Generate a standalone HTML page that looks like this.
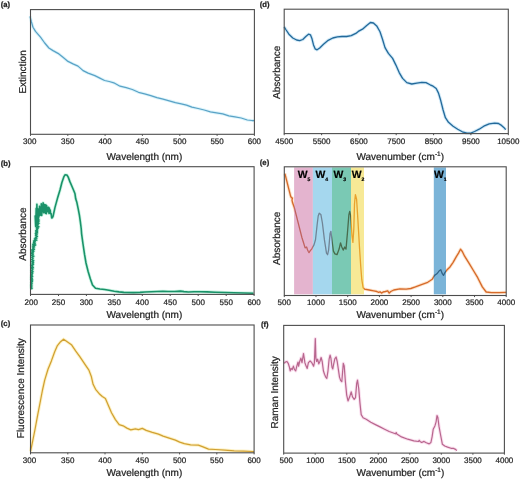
<!DOCTYPE html>
<html><head><meta charset="utf-8"><style>html,body{margin:0;padding:0;background:#fff;width:520px;height:479px;overflow:hidden}svg{display:block}</style></head>
<body>
<svg width="520" height="479" viewBox="0 0 520 479" text-rendering="geometricPrecision" font-family='"Liberation Sans", Arial, sans-serif' fill="#1e1e1e">
<style>text{stroke:#1e1e1e;stroke-width:0.22px} g.w text{stroke:#000;stroke-width:0.2px}</style>
<rect width="520" height="479" fill="#fff"/>
<polyline points="30.0,16.3 31.3,21.4 33.0,27.2 35.5,31.4 40.5,37.2 44.7,43.0 48.9,48.0 53.0,50.6 58.9,53.9 63.0,57.2 68.0,61.4 73.0,63.9 78.0,66.1 83.1,70.6 88.1,73.1 94.8,75.6 99.8,78.1 104.6,80.5 109.2,81.5 113.8,82.8 120.0,86.2 126.2,87.7 132.3,89.5 138.5,92.3 144.6,93.8 150.8,95.7 156.9,97.7 163.1,99.2 169.2,100.8 175.4,102.6 181.2,103.8 186.5,105.1 191.9,107.2 198.1,108.5 204.2,110.0 210.4,111.8 216.5,112.8 222.7,113.8 228.8,115.8 235.0,116.8 241.2,118.0 247.3,120.0 251.9,120.5 254.2,120.5" fill="none" stroke="#c4ecf8" stroke-width="3.2" stroke-opacity="0.6" stroke-linejoin="round"/>
<polyline points="30.0,16.3 31.3,21.4 33.0,27.2 35.5,31.4 40.5,37.2 44.7,43.0 48.9,48.0 53.0,50.6 58.9,53.9 63.0,57.2 68.0,61.4 73.0,63.9 78.0,66.1 83.1,70.6 88.1,73.1 94.8,75.6 99.8,78.1 104.6,80.5 109.2,81.5 113.8,82.8 120.0,86.2 126.2,87.7 132.3,89.5 138.5,92.3 144.6,93.8 150.8,95.7 156.9,97.7 163.1,99.2 169.2,100.8 175.4,102.6 181.2,103.8 186.5,105.1 191.9,107.2 198.1,108.5 204.2,110.0 210.4,111.8 216.5,112.8 222.7,113.8 228.8,115.8 235.0,116.8 241.2,118.0 247.3,120.0 251.9,120.5 254.2,120.5" fill="none" stroke="#5aa2c6" stroke-width="1.25" stroke-linejoin="round"/>
<polyline points="31.1,289.0 32.0,288.3 31.2,287.7 31.8,286.8 31.0,285.9 31.9,285.1 31.2,284.4 32.0,283.3 31.3,282.6 32.3,281.4 31.6,280.6 32.5,280.0 31.1,279.2 32.2,278.5 31.2,277.4 32.5,276.5 31.4,275.7 32.2,275.0 31.5,274.3 32.5,273.4 31.5,272.5 32.9,271.7 31.4,270.7 32.8,269.7 31.8,268.6 33.3,267.8 31.6,267.2 32.8,266.1 31.4,265.2 33.4,264.2 32.1,263.3 33.4,262.5 31.9,261.5 33.6,260.7 31.8,259.5 33.0,258.5 31.9,257.5 33.7,256.3 31.7,255.5 33.1,254.5 31.6,253.6 33.3,253.0 31.6,251.9 33.8,251.2 31.7,250.0 34.3,249.2 32.7,248.0 34.4,246.9 32.6,246.1 35.5,244.9 32.8,244.2 35.1,243.5 33.6,242.6 35.2,241.9 33.7,241.0 36.7,240.1 34.5,239.0 36.8,238.1 35.4,237.4 37.3,236.4 35.6,235.3 37.0,234.5 35.5,233.5 37.4,232.8 35.9,232.1 37.4,231.5 35.8,230.8 37.6,230.0 36.5,228.9 38.1,228.2 36.4,227.4 38.8,226.7 36.5,225.5 38.1,224.6 36.4,224.0 39.0,223.2 36.0,222.5 38.8,221.3 36.7,220.6 39.0,220.0 37.1,218.8 38.8,217.8 36.0,217.0 39.3,215.9 36.1,214.9 39.8,214.1 35.2,216.1 35.7,226.4 36.2,208.3 36.6,220.0 36.9,204.2 37.3,217.3 37.8,208.7 38.2,222.1 38.7,209.9 39.1,214.3 39.5,206.4 39.8,214.9 40.3,207.8 40.8,215.3 41.3,203.9 41.7,215.5 42.2,206.5 42.6,209.9 43.1,202.9 43.6,212.8 44.0,204.4 44.6,212.1 44.9,205.0 45.3,213.1 45.8,204.9 46.3,213.7 46.7,205.9 47.2,210.3 47.5,207.8 47.9,211.8 48.5,207.3 49.0,213.4 49.3,208.0 49.7,212.2 50.2,210.1 50.6,213.6 51.1,213.5 51.7,218.0 52.5,217.5 53.0,216.5 55.0,207.4 57.4,198.6 60.0,190.0 61.9,182.5 63.8,176.9 65.0,174.8 66.9,175.0 68.1,176.9 70.0,181.9 71.9,186.3 73.8,190.7 75.0,193.8 75.7,198.8 76.9,202.6 78.2,208.8 79.4,215.1 80.3,221.4 81.2,228.5 81.6,233.8 83.0,244.0 84.5,254.2 86.0,263.0 88.2,271.8 90.4,279.1 92.5,285.0 95.5,288.2 99.9,289.0 104.6,289.5 109.0,290.3 114.2,291.2 119.0,291.9 123.8,292.4 133.5,292.6 140.0,292.4 145.0,292.0 151.5,291.7 157.0,291.5 163.0,291.3 168.0,291.5 174.6,291.5 180.4,291.1 184.0,291.6 188.4,292.0 194.0,291.7 200.0,291.7 207.0,291.9 215.0,292.2 225.0,292.5 234.0,292.8 244.0,293.0 253.5,293.2" fill="none" stroke="#a8ecd0" stroke-width="3.2" stroke-opacity="0.6" stroke-linejoin="round"/>
<polyline points="31.1,289.0 32.0,288.3 31.2,287.7 31.8,286.8 31.0,285.9 31.9,285.1 31.2,284.4 32.0,283.3 31.3,282.6 32.3,281.4 31.6,280.6 32.5,280.0 31.1,279.2 32.2,278.5 31.2,277.4 32.5,276.5 31.4,275.7 32.2,275.0 31.5,274.3 32.5,273.4 31.5,272.5 32.9,271.7 31.4,270.7 32.8,269.7 31.8,268.6 33.3,267.8 31.6,267.2 32.8,266.1 31.4,265.2 33.4,264.2 32.1,263.3 33.4,262.5 31.9,261.5 33.6,260.7 31.8,259.5 33.0,258.5 31.9,257.5 33.7,256.3 31.7,255.5 33.1,254.5 31.6,253.6 33.3,253.0 31.6,251.9 33.8,251.2 31.7,250.0 34.3,249.2 32.7,248.0 34.4,246.9 32.6,246.1 35.5,244.9 32.8,244.2 35.1,243.5 33.6,242.6 35.2,241.9 33.7,241.0 36.7,240.1 34.5,239.0 36.8,238.1 35.4,237.4 37.3,236.4 35.6,235.3 37.0,234.5 35.5,233.5 37.4,232.8 35.9,232.1 37.4,231.5 35.8,230.8 37.6,230.0 36.5,228.9 38.1,228.2 36.4,227.4 38.8,226.7 36.5,225.5 38.1,224.6 36.4,224.0 39.0,223.2 36.0,222.5 38.8,221.3 36.7,220.6 39.0,220.0 37.1,218.8 38.8,217.8 36.0,217.0 39.3,215.9 36.1,214.9 39.8,214.1 35.2,216.1 35.7,226.4 36.2,208.3 36.6,220.0 36.9,204.2 37.3,217.3 37.8,208.7 38.2,222.1 38.7,209.9 39.1,214.3 39.5,206.4 39.8,214.9 40.3,207.8 40.8,215.3 41.3,203.9 41.7,215.5 42.2,206.5 42.6,209.9 43.1,202.9 43.6,212.8 44.0,204.4 44.6,212.1 44.9,205.0 45.3,213.1 45.8,204.9 46.3,213.7 46.7,205.9 47.2,210.3 47.5,207.8 47.9,211.8 48.5,207.3 49.0,213.4 49.3,208.0 49.7,212.2 50.2,210.1 50.6,213.6 51.1,213.5 51.7,218.0 52.5,217.5 53.0,216.5 55.0,207.4 57.4,198.6 60.0,190.0 61.9,182.5 63.8,176.9 65.0,174.8 66.9,175.0 68.1,176.9 70.0,181.9 71.9,186.3 73.8,190.7 75.0,193.8 75.7,198.8 76.9,202.6 78.2,208.8 79.4,215.1 80.3,221.4 81.2,228.5 81.6,233.8 83.0,244.0 84.5,254.2 86.0,263.0 88.2,271.8 90.4,279.1 92.5,285.0 95.5,288.2 99.9,289.0 104.6,289.5 109.0,290.3 114.2,291.2 119.0,291.9 123.8,292.4 133.5,292.6 140.0,292.4 145.0,292.0 151.5,291.7 157.0,291.5 163.0,291.3 168.0,291.5 174.6,291.5 180.4,291.1 184.0,291.6 188.4,292.0 194.0,291.7 200.0,291.7 207.0,291.9 215.0,292.2 225.0,292.5 234.0,292.8 244.0,293.0 253.5,293.2" fill="none" stroke="#1a9269" stroke-width="1.6" stroke-linejoin="round"/>
<polyline points="30.5,451.4 32.1,443.8 34.9,430.0 37.7,414.8 40.4,401.0 42.5,390.0 44.7,380.1 48.0,369.2 51.4,360.9 54.7,351.7 57.2,345.9 60.6,341.7 63.6,339.2 67.2,341.7 71.4,344.7 75.6,350.9 79.8,356.7 84.8,364.2 88.9,370.1 91.4,376.8 93.1,384.3 95.6,389.3 99.8,394.3 102.3,396.5 105.4,398.5 108.5,405.8 111.5,412.7 115.4,419.6 119.2,424.7 123.1,425.8 126.9,428.1 130.8,429.9 135.4,428.8 138.5,429.6 142.3,428.4 146.2,430.4 152.3,432.4 158.5,434.2 163.1,436.1 169.2,438.1 175.4,440.1 179.7,442.1 184.3,443.7 190.6,444.9 198.4,445.2 203.0,446.8 208.5,449.1 215.5,449.5 224.8,450.2 234.2,450.9 243.5,451.2 252.9,451.5 254.0,451.6" fill="none" stroke="#fbe9a0" stroke-width="3.2" stroke-opacity="0.6" stroke-linejoin="round"/>
<polyline points="30.5,451.4 32.1,443.8 34.9,430.0 37.7,414.8 40.4,401.0 42.5,390.0 44.7,380.1 48.0,369.2 51.4,360.9 54.7,351.7 57.2,345.9 60.6,341.7 63.6,339.2 67.2,341.7 71.4,344.7 75.6,350.9 79.8,356.7 84.8,364.2 88.9,370.1 91.4,376.8 93.1,384.3 95.6,389.3 99.8,394.3 102.3,396.5 105.4,398.5 108.5,405.8 111.5,412.7 115.4,419.6 119.2,424.7 123.1,425.8 126.9,428.1 130.8,429.9 135.4,428.8 138.5,429.6 142.3,428.4 146.2,430.4 152.3,432.4 158.5,434.2 163.1,436.1 169.2,438.1 175.4,440.1 179.7,442.1 184.3,443.7 190.6,444.9 198.4,445.2 203.0,446.8 208.5,449.1 215.5,449.5 224.8,450.2 234.2,450.9 243.5,451.2 252.9,451.5 254.0,451.6" fill="none" stroke="#d1a032" stroke-width="1.25" stroke-linejoin="round"/>
<polyline points="284.2,26.8 285.8,29.5 288.9,34.2 292.8,38.0 296.6,40.0 299.7,40.6 302.8,39.5 305.8,36.5 308.5,34.2 310.5,34.9 312.0,38.8 313.5,44.9 315.1,48.8 317.1,49.8 319.7,48.0 323.5,44.2 328.2,40.3 332.8,38.0 337.4,36.9 342.0,36.5 346.6,36.5 351.2,35.7 355.8,33.4 358.3,31.4 362.5,29.2 366.7,25.4 370.4,22.5 373.4,23.0 376.7,25.9 380.0,31.7 382.5,39.2 385.0,47.6 388.4,53.4 392.6,58.4 395.9,65.1 399.2,72.6 402.6,78.4 406.8,82.6 411.8,84.0 416.8,83.1 421.8,82.3 426.0,82.6 430.1,84.8 433.1,86.2 436.2,88.5 438.5,93.1 440.8,100.8 443.1,110.0 445.4,117.7 448.5,122.3 453.1,126.2 457.7,129.2 462.3,131.8 466.9,133.1 470.8,133.1 474.6,131.5 479.2,129.2 483.8,126.2 489.2,123.8 494.6,123.1 498.5,123.5 501.5,125.4 503.8,127.4 505.7,129.7" fill="none" stroke="#b0daf2" stroke-width="3.2" stroke-opacity="0.6" stroke-linejoin="round"/>
<polyline points="284.2,26.8 285.8,29.5 288.9,34.2 292.8,38.0 296.6,40.0 299.7,40.6 302.8,39.5 305.8,36.5 308.5,34.2 310.5,34.9 312.0,38.8 313.5,44.9 315.1,48.8 317.1,49.8 319.7,48.0 323.5,44.2 328.2,40.3 332.8,38.0 337.4,36.9 342.0,36.5 346.6,36.5 351.2,35.7 355.8,33.4 358.3,31.4 362.5,29.2 366.7,25.4 370.4,22.5 373.4,23.0 376.7,25.9 380.0,31.7 382.5,39.2 385.0,47.6 388.4,53.4 392.6,58.4 395.9,65.1 399.2,72.6 402.6,78.4 406.8,82.6 411.8,84.0 416.8,83.1 421.8,82.3 426.0,82.6 430.1,84.8 433.1,86.2 436.2,88.5 438.5,93.1 440.8,100.8 443.1,110.0 445.4,117.7 448.5,122.3 453.1,126.2 457.7,129.2 462.3,131.8 466.9,133.1 470.8,133.1 474.6,131.5 479.2,129.2 483.8,126.2 489.2,123.8 494.6,123.1 498.5,123.5 501.5,125.4 503.8,127.4 505.7,129.7" fill="none" stroke="#23699a" stroke-width="1.3" stroke-linejoin="round"/>
<defs><clipPath id="cb0"><rect x="294.1" y="167.4" width="18.8" height="128.9"/></clipPath><clipPath id="cb1"><rect x="312.9" y="167.4" width="19.1" height="128.9"/></clipPath><clipPath id="cb2"><rect x="332.0" y="167.4" width="19.0" height="128.9"/></clipPath><clipPath id="cb3"><rect x="351.0" y="167.4" width="13.0" height="128.9"/></clipPath><clipPath id="cb4"><rect x="433.8" y="167.4" width="12.2" height="128.9"/></clipPath></defs>
<polyline points="284.9,173.6 286.8,181.2 288.7,188.7 290.6,196.2 291.4,197.6 292.4,198.2 292.0,200.2 292.6,202.8 294.3,207.5 296.2,215.0 298.1,222.5 300.0,230.0 301.9,237.5 303.7,243.2 305.1,247.9 306.6,247.0 307.5,249.8 308.3,251.5 309.0,252.6 310.3,250.7 311.8,248.8 314.0,244.9 315.5,239.7 317.1,225.0 318.2,216.0 319.2,213.2 320.9,214.6 322.4,223.0 324.4,239.7 326.5,253.2 327.6,254.7 328.6,250.1 330.1,233.4 330.9,231.3 332.2,241.8 333.4,251.1 334.9,253.9 337.0,254.7 339.1,249.1 340.5,242.8 341.8,247.0 343.2,250.1 344.7,247.0 346.0,249.1 347.4,233.4 348.9,214.6 349.7,211.5 350.6,215.3 352.0,236.0 352.9,242.4 353.8,229.1 354.5,203.8 355.4,194.6 356.6,199.2 357.9,219.9 359.5,247.5 360.7,265.9 361.8,279.7 363.1,287.7 364.6,289.2 369.2,290.0 373.8,290.8 376.9,291.5 378.5,292.3 380.0,291.8 381.5,293.1 383.1,292.0 385.4,291.5 387.7,290.8 389.2,293.1 390.8,291.5 393.8,290.0 400.0,288.8 406.2,289.2 410.8,288.5 415.4,286.9 421.5,284.6 427.7,282.3 430.0,280.8 432.3,279.2 434.6,275.4 436.9,273.8 439.2,270.8 440.8,269.7 442.0,273.1 443.5,275.4 445.1,272.3 446.9,270.0 450.0,266.9 453.1,262.3 456.2,256.9 458.5,253.1 460.5,249.2 462.3,251.5 464.6,256.2 468.5,262.3 473.1,270.0 477.7,277.7 482.3,286.9 486.2,292.0 491.5,292.6 499.2,292.6 506.2,292.3" fill="none" stroke="#fcd0a8" stroke-width="3.2" stroke-opacity="0.6" stroke-linejoin="round"/>
<polyline points="284.9,173.6 286.8,181.2 288.7,188.7 290.6,196.2 291.4,197.6 292.4,198.2 292.0,200.2 292.6,202.8 294.3,207.5 296.2,215.0 298.1,222.5 300.0,230.0 301.9,237.5 303.7,243.2 305.1,247.9 306.6,247.0 307.5,249.8 308.3,251.5 309.0,252.6 310.3,250.7 311.8,248.8 314.0,244.9 315.5,239.7 317.1,225.0 318.2,216.0 319.2,213.2 320.9,214.6 322.4,223.0 324.4,239.7 326.5,253.2 327.6,254.7 328.6,250.1 330.1,233.4 330.9,231.3 332.2,241.8 333.4,251.1 334.9,253.9 337.0,254.7 339.1,249.1 340.5,242.8 341.8,247.0 343.2,250.1 344.7,247.0 346.0,249.1 347.4,233.4 348.9,214.6 349.7,211.5 350.6,215.3 352.0,236.0 352.9,242.4 353.8,229.1 354.5,203.8 355.4,194.6 356.6,199.2 357.9,219.9 359.5,247.5 360.7,265.9 361.8,279.7 363.1,287.7 364.6,289.2 369.2,290.0 373.8,290.8 376.9,291.5 378.5,292.3 380.0,291.8 381.5,293.1 383.1,292.0 385.4,291.5 387.7,290.8 389.2,293.1 390.8,291.5 393.8,290.0 400.0,288.8 406.2,289.2 410.8,288.5 415.4,286.9 421.5,284.6 427.7,282.3 430.0,280.8 432.3,279.2 434.6,275.4 436.9,273.8 439.2,270.8 440.8,269.7 442.0,273.1 443.5,275.4 445.1,272.3 446.9,270.0 450.0,266.9 453.1,262.3 456.2,256.9 458.5,253.1 460.5,249.2 462.3,251.5 464.6,256.2 468.5,262.3 473.1,270.0 477.7,277.7 482.3,286.9 486.2,292.0 491.5,292.6 499.2,292.6 506.2,292.3" fill="none" stroke="#d66a2a" stroke-width="1.35" stroke-linejoin="round"/>
<rect x="294.1" y="167.4" width="18.8" height="126.9" fill="rgb(228,180,207)"/>
<rect x="312.9" y="167.4" width="19.1" height="126.9" fill="rgb(165,215,238)"/>
<rect x="332.0" y="167.4" width="19.0" height="126.9" fill="rgb(122,201,180)"/>
<rect x="351.0" y="167.4" width="13.0" height="126.9" fill="rgb(247,233,150)"/>
<rect x="433.8" y="167.4" width="12.2" height="126.9" fill="rgb(123,180,216)"/>
<polyline clip-path="url(#cb0)" points="284.9,173.6 286.8,181.2 288.7,188.7 290.6,196.2 291.4,197.6 292.4,198.2 292.0,200.2 292.6,202.8 294.3,207.5 296.2,215.0 298.1,222.5 300.0,230.0 301.9,237.5 303.7,243.2 305.1,247.9 306.6,247.0 307.5,249.8 308.3,251.5 309.0,252.6 310.3,250.7 311.8,248.8 314.0,244.9 315.5,239.7 317.1,225.0 318.2,216.0 319.2,213.2 320.9,214.6 322.4,223.0 324.4,239.7 326.5,253.2 327.6,254.7 328.6,250.1 330.1,233.4 330.9,231.3 332.2,241.8 333.4,251.1 334.9,253.9 337.0,254.7 339.1,249.1 340.5,242.8 341.8,247.0 343.2,250.1 344.7,247.0 346.0,249.1 347.4,233.4 348.9,214.6 349.7,211.5 350.6,215.3 352.0,236.0 352.9,242.4 353.8,229.1 354.5,203.8 355.4,194.6 356.6,199.2 357.9,219.9 359.5,247.5 360.7,265.9 361.8,279.7 363.1,287.7 364.6,289.2 369.2,290.0 373.8,290.8 376.9,291.5 378.5,292.3 380.0,291.8 381.5,293.1 383.1,292.0 385.4,291.5 387.7,290.8 389.2,293.1 390.8,291.5 393.8,290.0 400.0,288.8 406.2,289.2 410.8,288.5 415.4,286.9 421.5,284.6 427.7,282.3 430.0,280.8 432.3,279.2 434.6,275.4 436.9,273.8 439.2,270.8 440.8,269.7 442.0,273.1 443.5,275.4 445.1,272.3 446.9,270.0 450.0,266.9 453.1,262.3 456.2,256.9 458.5,253.1 460.5,249.2 462.3,251.5 464.6,256.2 468.5,262.3 473.1,270.0 477.7,277.7 482.3,286.9 486.2,292.0 491.5,292.6 499.2,292.6 506.2,292.3" fill="none" stroke="rgb(192,98,96)" stroke-width="1.3" stroke-linejoin="round"/>
<polyline clip-path="url(#cb1)" points="284.9,173.6 286.8,181.2 288.7,188.7 290.6,196.2 291.4,197.6 292.4,198.2 292.0,200.2 292.6,202.8 294.3,207.5 296.2,215.0 298.1,222.5 300.0,230.0 301.9,237.5 303.7,243.2 305.1,247.9 306.6,247.0 307.5,249.8 308.3,251.5 309.0,252.6 310.3,250.7 311.8,248.8 314.0,244.9 315.5,239.7 317.1,225.0 318.2,216.0 319.2,213.2 320.9,214.6 322.4,223.0 324.4,239.7 326.5,253.2 327.6,254.7 328.6,250.1 330.1,233.4 330.9,231.3 332.2,241.8 333.4,251.1 334.9,253.9 337.0,254.7 339.1,249.1 340.5,242.8 341.8,247.0 343.2,250.1 344.7,247.0 346.0,249.1 347.4,233.4 348.9,214.6 349.7,211.5 350.6,215.3 352.0,236.0 352.9,242.4 353.8,229.1 354.5,203.8 355.4,194.6 356.6,199.2 357.9,219.9 359.5,247.5 360.7,265.9 361.8,279.7 363.1,287.7 364.6,289.2 369.2,290.0 373.8,290.8 376.9,291.5 378.5,292.3 380.0,291.8 381.5,293.1 383.1,292.0 385.4,291.5 387.7,290.8 389.2,293.1 390.8,291.5 393.8,290.0 400.0,288.8 406.2,289.2 410.8,288.5 415.4,286.9 421.5,284.6 427.7,282.3 430.0,280.8 432.3,279.2 434.6,275.4 436.9,273.8 439.2,270.8 440.8,269.7 442.0,273.1 443.5,275.4 445.1,272.3 446.9,270.0 450.0,266.9 453.1,262.3 456.2,256.9 458.5,253.1 460.5,249.2 462.3,251.5 464.6,256.2 468.5,262.3 473.1,270.0 477.7,277.7 482.3,286.9 486.2,292.0 491.5,292.6 499.2,292.6 506.2,292.3" fill="none" stroke="rgb(112,132,150)" stroke-width="1.3" stroke-linejoin="round"/>
<polyline clip-path="url(#cb2)" points="284.9,173.6 286.8,181.2 288.7,188.7 290.6,196.2 291.4,197.6 292.4,198.2 292.0,200.2 292.6,202.8 294.3,207.5 296.2,215.0 298.1,222.5 300.0,230.0 301.9,237.5 303.7,243.2 305.1,247.9 306.6,247.0 307.5,249.8 308.3,251.5 309.0,252.6 310.3,250.7 311.8,248.8 314.0,244.9 315.5,239.7 317.1,225.0 318.2,216.0 319.2,213.2 320.9,214.6 322.4,223.0 324.4,239.7 326.5,253.2 327.6,254.7 328.6,250.1 330.1,233.4 330.9,231.3 332.2,241.8 333.4,251.1 334.9,253.9 337.0,254.7 339.1,249.1 340.5,242.8 341.8,247.0 343.2,250.1 344.7,247.0 346.0,249.1 347.4,233.4 348.9,214.6 349.7,211.5 350.6,215.3 352.0,236.0 352.9,242.4 353.8,229.1 354.5,203.8 355.4,194.6 356.6,199.2 357.9,219.9 359.5,247.5 360.7,265.9 361.8,279.7 363.1,287.7 364.6,289.2 369.2,290.0 373.8,290.8 376.9,291.5 378.5,292.3 380.0,291.8 381.5,293.1 383.1,292.0 385.4,291.5 387.7,290.8 389.2,293.1 390.8,291.5 393.8,290.0 400.0,288.8 406.2,289.2 410.8,288.5 415.4,286.9 421.5,284.6 427.7,282.3 430.0,280.8 432.3,279.2 434.6,275.4 436.9,273.8 439.2,270.8 440.8,269.7 442.0,273.1 443.5,275.4 445.1,272.3 446.9,270.0 450.0,266.9 453.1,262.3 456.2,256.9 458.5,253.1 460.5,249.2 462.3,251.5 464.6,256.2 468.5,262.3 473.1,270.0 477.7,277.7 482.3,286.9 486.2,292.0 491.5,292.6 499.2,292.6 506.2,292.3" fill="none" stroke="rgb(72,108,78)" stroke-width="1.3" stroke-linejoin="round"/>
<polyline clip-path="url(#cb3)" points="284.9,173.6 286.8,181.2 288.7,188.7 290.6,196.2 291.4,197.6 292.4,198.2 292.0,200.2 292.6,202.8 294.3,207.5 296.2,215.0 298.1,222.5 300.0,230.0 301.9,237.5 303.7,243.2 305.1,247.9 306.6,247.0 307.5,249.8 308.3,251.5 309.0,252.6 310.3,250.7 311.8,248.8 314.0,244.9 315.5,239.7 317.1,225.0 318.2,216.0 319.2,213.2 320.9,214.6 322.4,223.0 324.4,239.7 326.5,253.2 327.6,254.7 328.6,250.1 330.1,233.4 330.9,231.3 332.2,241.8 333.4,251.1 334.9,253.9 337.0,254.7 339.1,249.1 340.5,242.8 341.8,247.0 343.2,250.1 344.7,247.0 346.0,249.1 347.4,233.4 348.9,214.6 349.7,211.5 350.6,215.3 352.0,236.0 352.9,242.4 353.8,229.1 354.5,203.8 355.4,194.6 356.6,199.2 357.9,219.9 359.5,247.5 360.7,265.9 361.8,279.7 363.1,287.7 364.6,289.2 369.2,290.0 373.8,290.8 376.9,291.5 378.5,292.3 380.0,291.8 381.5,293.1 383.1,292.0 385.4,291.5 387.7,290.8 389.2,293.1 390.8,291.5 393.8,290.0 400.0,288.8 406.2,289.2 410.8,288.5 415.4,286.9 421.5,284.6 427.7,282.3 430.0,280.8 432.3,279.2 434.6,275.4 436.9,273.8 439.2,270.8 440.8,269.7 442.0,273.1 443.5,275.4 445.1,272.3 446.9,270.0 450.0,266.9 453.1,262.3 456.2,256.9 458.5,253.1 460.5,249.2 462.3,251.5 464.6,256.2 468.5,262.3 473.1,270.0 477.7,277.7 482.3,286.9 486.2,292.0 491.5,292.6 499.2,292.6 506.2,292.3" fill="none" stroke="rgb(232,162,45)" stroke-width="1.3" stroke-linejoin="round"/>
<polyline clip-path="url(#cb4)" points="284.9,173.6 286.8,181.2 288.7,188.7 290.6,196.2 291.4,197.6 292.4,198.2 292.0,200.2 292.6,202.8 294.3,207.5 296.2,215.0 298.1,222.5 300.0,230.0 301.9,237.5 303.7,243.2 305.1,247.9 306.6,247.0 307.5,249.8 308.3,251.5 309.0,252.6 310.3,250.7 311.8,248.8 314.0,244.9 315.5,239.7 317.1,225.0 318.2,216.0 319.2,213.2 320.9,214.6 322.4,223.0 324.4,239.7 326.5,253.2 327.6,254.7 328.6,250.1 330.1,233.4 330.9,231.3 332.2,241.8 333.4,251.1 334.9,253.9 337.0,254.7 339.1,249.1 340.5,242.8 341.8,247.0 343.2,250.1 344.7,247.0 346.0,249.1 347.4,233.4 348.9,214.6 349.7,211.5 350.6,215.3 352.0,236.0 352.9,242.4 353.8,229.1 354.5,203.8 355.4,194.6 356.6,199.2 357.9,219.9 359.5,247.5 360.7,265.9 361.8,279.7 363.1,287.7 364.6,289.2 369.2,290.0 373.8,290.8 376.9,291.5 378.5,292.3 380.0,291.8 381.5,293.1 383.1,292.0 385.4,291.5 387.7,290.8 389.2,293.1 390.8,291.5 393.8,290.0 400.0,288.8 406.2,289.2 410.8,288.5 415.4,286.9 421.5,284.6 427.7,282.3 430.0,280.8 432.3,279.2 434.6,275.4 436.9,273.8 439.2,270.8 440.8,269.7 442.0,273.1 443.5,275.4 445.1,272.3 446.9,270.0 450.0,266.9 453.1,262.3 456.2,256.9 458.5,253.1 460.5,249.2 462.3,251.5 464.6,256.2 468.5,262.3 473.1,270.0 477.7,277.7 482.3,286.9 486.2,292.0 491.5,292.6 499.2,292.6 506.2,292.3" fill="none" stroke="rgb(50,100,135)" stroke-width="1.3" stroke-linejoin="round"/>
<polyline points="284.2,363.3 285.3,362.1 287.0,361.5 288.2,363.3 289.3,366.7 290.2,370.8 291.1,368.4 292.2,369.6 293.4,366.1 294.5,369.6 295.7,370.8 296.8,366.1 298.0,362.1 298.6,366.1 299.7,361.5 300.9,358.1 302.0,362.7 303.5,353.5 304.9,362.7 306.1,366.1 307.2,368.4 308.4,362.7 310.1,361.0 311.8,362.7 313.6,366.1 314.4,362.7 315.3,338.5 315.9,358.1 316.7,361.5 317.6,359.2 318.8,363.8 319.9,361.5 321.1,357.5 322.2,361.5 323.4,370.8 324.5,374.2 325.7,377.1 326.8,378.3 328.0,370.8 329.1,359.2 330.1,355.2 330.9,358.1 332.0,367.3 332.8,369.0 333.7,363.8 334.9,358.6 336.1,357.0 337.2,361.5 338.4,369.6 339.5,377.1 340.7,380.6 341.8,381.7 343.3,363.4 344.2,365.9 345.4,381.7 346.7,395.1 348.0,400.9 349.7,396.8 351.2,391.8 352.5,396.8 354.2,399.3 355.5,397.6 356.7,383.4 357.5,380.1 358.7,388.4 360.0,403.4 361.2,414.6 363.1,417.7 366.2,419.2 370.8,422.3 375.4,424.6 380.0,426.9 384.6,429.2 389.2,431.5 395.4,433.8 396.2,432.6 396.8,434.0 401.5,436.9 407.7,439.2 413.8,440.8 418.5,441.5 419.2,440.3 420.0,441.4 421.7,442.5 424.0,441.4 426.3,442.8 429.2,443.9 430.9,442.5 432.1,436.8 433.2,429.3 434.9,425.9 436.1,421.8 437.0,415.5 437.8,417.2 439.0,426.4 440.5,434.5 442.4,444.3 444.7,446.0 447.6,447.1 451.0,448.3 453.3,448.3 454.5,448.9 455.6,449.4 456.8,450.6" fill="none" stroke="#f6cce4" stroke-width="3.2" stroke-opacity="0.6" stroke-linejoin="round"/>
<polyline points="284.2,363.3 285.3,362.1 287.0,361.5 288.2,363.3 289.3,366.7 290.2,370.8 291.1,368.4 292.2,369.6 293.4,366.1 294.5,369.6 295.7,370.8 296.8,366.1 298.0,362.1 298.6,366.1 299.7,361.5 300.9,358.1 302.0,362.7 303.5,353.5 304.9,362.7 306.1,366.1 307.2,368.4 308.4,362.7 310.1,361.0 311.8,362.7 313.6,366.1 314.4,362.7 315.3,338.5 315.9,358.1 316.7,361.5 317.6,359.2 318.8,363.8 319.9,361.5 321.1,357.5 322.2,361.5 323.4,370.8 324.5,374.2 325.7,377.1 326.8,378.3 328.0,370.8 329.1,359.2 330.1,355.2 330.9,358.1 332.0,367.3 332.8,369.0 333.7,363.8 334.9,358.6 336.1,357.0 337.2,361.5 338.4,369.6 339.5,377.1 340.7,380.6 341.8,381.7 343.3,363.4 344.2,365.9 345.4,381.7 346.7,395.1 348.0,400.9 349.7,396.8 351.2,391.8 352.5,396.8 354.2,399.3 355.5,397.6 356.7,383.4 357.5,380.1 358.7,388.4 360.0,403.4 361.2,414.6 363.1,417.7 366.2,419.2 370.8,422.3 375.4,424.6 380.0,426.9 384.6,429.2 389.2,431.5 395.4,433.8 396.2,432.6 396.8,434.0 401.5,436.9 407.7,439.2 413.8,440.8 418.5,441.5 419.2,440.3 420.0,441.4 421.7,442.5 424.0,441.4 426.3,442.8 429.2,443.9 430.9,442.5 432.1,436.8 433.2,429.3 434.9,425.9 436.1,421.8 437.0,415.5 437.8,417.2 439.0,426.4 440.5,434.5 442.4,444.3 444.7,446.0 447.6,447.1 451.0,448.3 453.3,448.3 454.5,448.9 455.6,449.4 456.8,450.6" fill="none" stroke="#b8668e" stroke-width="1.2" stroke-linejoin="round"/>
<rect x="30.5" y="9.6" width="223.9" height="124.7" fill="none" stroke="#4d4d4d" stroke-width="1.1"/><rect x="30.5" y="166.7" width="223.6" height="127.7" fill="none" stroke="#4d4d4d" stroke-width="1.1"/><rect x="30.5" y="325.0" width="223.6" height="127.8" fill="none" stroke="#4d4d4d" stroke-width="1.1"/><rect x="284.2" y="9.2" width="224.1" height="124.4" fill="none" stroke="#4d4d4d" stroke-width="1.1"/><rect x="284.3" y="166.8" width="221.9" height="128.7" fill="none" stroke="#4d4d4d" stroke-width="1.1"/><rect x="283.7" y="325.4" width="220.7" height="127.7" fill="none" stroke="#4d4d4d" stroke-width="1.1"/>
<line x1="30.5" y1="134.3" x2="30.5" y2="135.9" stroke="#4d4d4d" stroke-width="1"/>
<text x="29.7" y="143.8" font-size="8.0" text-anchor="middle">300</text>
<line x1="67.8" y1="134.3" x2="67.8" y2="135.9" stroke="#4d4d4d" stroke-width="1"/>
<text x="67.8" y="143.8" font-size="8.0" text-anchor="middle">350</text>
<line x1="105.1" y1="134.3" x2="105.1" y2="135.9" stroke="#4d4d4d" stroke-width="1"/>
<text x="105.1" y="143.8" font-size="8.0" text-anchor="middle">400</text>
<line x1="142.4" y1="134.3" x2="142.4" y2="135.9" stroke="#4d4d4d" stroke-width="1"/>
<text x="142.4" y="143.8" font-size="8.0" text-anchor="middle">450</text>
<line x1="179.8" y1="134.3" x2="179.8" y2="135.9" stroke="#4d4d4d" stroke-width="1"/>
<text x="179.8" y="143.8" font-size="8.0" text-anchor="middle">500</text>
<line x1="217.1" y1="134.3" x2="217.1" y2="135.9" stroke="#4d4d4d" stroke-width="1"/>
<text x="217.1" y="143.8" font-size="8.0" text-anchor="middle">550</text>
<line x1="254.4" y1="134.3" x2="254.4" y2="135.9" stroke="#4d4d4d" stroke-width="1"/>
<text x="254.4" y="143.8" font-size="8.0" text-anchor="middle">600</text>
<line x1="30.5" y1="294.4" x2="30.5" y2="296.0" stroke="#4d4d4d" stroke-width="1"/>
<text x="31.2" y="304.8" font-size="8.0" text-anchor="middle">200</text>
<line x1="58.5" y1="294.4" x2="58.5" y2="296.0" stroke="#4d4d4d" stroke-width="1"/>
<text x="58.5" y="304.8" font-size="8.0" text-anchor="middle">250</text>
<line x1="86.4" y1="294.4" x2="86.4" y2="296.0" stroke="#4d4d4d" stroke-width="1"/>
<text x="86.4" y="304.8" font-size="8.0" text-anchor="middle">300</text>
<line x1="114.3" y1="294.4" x2="114.3" y2="296.0" stroke="#4d4d4d" stroke-width="1"/>
<text x="114.3" y="304.8" font-size="8.0" text-anchor="middle">350</text>
<line x1="142.3" y1="294.4" x2="142.3" y2="296.0" stroke="#4d4d4d" stroke-width="1"/>
<text x="142.3" y="304.8" font-size="8.0" text-anchor="middle">400</text>
<line x1="170.2" y1="294.4" x2="170.2" y2="296.0" stroke="#4d4d4d" stroke-width="1"/>
<text x="170.2" y="304.8" font-size="8.0" text-anchor="middle">450</text>
<line x1="198.2" y1="294.4" x2="198.2" y2="296.0" stroke="#4d4d4d" stroke-width="1"/>
<text x="198.2" y="304.8" font-size="8.0" text-anchor="middle">500</text>
<line x1="226.2" y1="294.4" x2="226.2" y2="296.0" stroke="#4d4d4d" stroke-width="1"/>
<text x="226.2" y="304.8" font-size="8.0" text-anchor="middle">550</text>
<line x1="254.1" y1="294.4" x2="254.1" y2="296.0" stroke="#4d4d4d" stroke-width="1"/>
<text x="254.1" y="304.8" font-size="8.0" text-anchor="middle">600</text>
<line x1="30.5" y1="452.8" x2="30.5" y2="454.4" stroke="#4d4d4d" stroke-width="1"/>
<text x="29.5" y="463.2" font-size="8.0" text-anchor="middle">300</text>
<line x1="67.8" y1="452.8" x2="67.8" y2="454.4" stroke="#4d4d4d" stroke-width="1"/>
<text x="67.8" y="463.2" font-size="8.0" text-anchor="middle">350</text>
<line x1="105.0" y1="452.8" x2="105.0" y2="454.4" stroke="#4d4d4d" stroke-width="1"/>
<text x="105.0" y="463.2" font-size="8.0" text-anchor="middle">400</text>
<line x1="142.3" y1="452.8" x2="142.3" y2="454.4" stroke="#4d4d4d" stroke-width="1"/>
<text x="142.3" y="463.2" font-size="8.0" text-anchor="middle">450</text>
<line x1="179.6" y1="452.8" x2="179.6" y2="454.4" stroke="#4d4d4d" stroke-width="1"/>
<text x="179.6" y="463.2" font-size="8.0" text-anchor="middle">500</text>
<line x1="216.8" y1="452.8" x2="216.8" y2="454.4" stroke="#4d4d4d" stroke-width="1"/>
<text x="216.8" y="463.2" font-size="8.0" text-anchor="middle">550</text>
<line x1="254.1" y1="452.8" x2="254.1" y2="454.4" stroke="#4d4d4d" stroke-width="1"/>
<text x="254.1" y="463.2" font-size="8.0" text-anchor="middle">600</text>
<line x1="284.2" y1="133.6" x2="284.2" y2="135.2" stroke="#4d4d4d" stroke-width="1"/>
<text x="284.2" y="143.8" font-size="8.0" text-anchor="middle">4500</text>
<line x1="321.6" y1="133.6" x2="321.6" y2="135.2" stroke="#4d4d4d" stroke-width="1"/>
<text x="321.6" y="143.8" font-size="8.0" text-anchor="middle">5500</text>
<line x1="358.9" y1="133.6" x2="358.9" y2="135.2" stroke="#4d4d4d" stroke-width="1"/>
<text x="358.9" y="143.8" font-size="8.0" text-anchor="middle">6500</text>
<line x1="396.2" y1="133.6" x2="396.2" y2="135.2" stroke="#4d4d4d" stroke-width="1"/>
<text x="396.2" y="143.8" font-size="8.0" text-anchor="middle">7500</text>
<line x1="433.6" y1="133.6" x2="433.6" y2="135.2" stroke="#4d4d4d" stroke-width="1"/>
<text x="433.6" y="143.8" font-size="8.0" text-anchor="middle">8500</text>
<line x1="470.9" y1="133.6" x2="470.9" y2="135.2" stroke="#4d4d4d" stroke-width="1"/>
<text x="470.9" y="143.8" font-size="8.0" text-anchor="middle">9500</text>
<line x1="508.3" y1="133.6" x2="508.3" y2="135.2" stroke="#4d4d4d" stroke-width="1"/>
<text x="508.3" y="143.8" font-size="8.0" text-anchor="middle">10500</text>
<line x1="284.3" y1="295.5" x2="284.3" y2="297.1" stroke="#4d4d4d" stroke-width="1"/>
<text x="284.3" y="304.8" font-size="8.0" text-anchor="middle">500</text>
<line x1="316.0" y1="295.5" x2="316.0" y2="297.1" stroke="#4d4d4d" stroke-width="1"/>
<text x="316.0" y="304.8" font-size="8.0" text-anchor="middle">1000</text>
<line x1="347.7" y1="295.5" x2="347.7" y2="297.1" stroke="#4d4d4d" stroke-width="1"/>
<text x="347.7" y="304.8" font-size="8.0" text-anchor="middle">1500</text>
<line x1="379.4" y1="295.5" x2="379.4" y2="297.1" stroke="#4d4d4d" stroke-width="1"/>
<text x="379.4" y="304.8" font-size="8.0" text-anchor="middle">2000</text>
<line x1="411.1" y1="295.5" x2="411.1" y2="297.1" stroke="#4d4d4d" stroke-width="1"/>
<text x="411.1" y="304.8" font-size="8.0" text-anchor="middle">2500</text>
<line x1="442.8" y1="295.5" x2="442.8" y2="297.1" stroke="#4d4d4d" stroke-width="1"/>
<text x="442.8" y="304.8" font-size="8.0" text-anchor="middle">3000</text>
<line x1="474.5" y1="295.5" x2="474.5" y2="297.1" stroke="#4d4d4d" stroke-width="1"/>
<text x="474.5" y="304.8" font-size="8.0" text-anchor="middle">3500</text>
<line x1="506.2" y1="295.5" x2="506.2" y2="297.1" stroke="#4d4d4d" stroke-width="1"/>
<text x="506.2" y="304.8" font-size="8.0" text-anchor="middle">4000</text>
<line x1="283.7" y1="453.1" x2="283.7" y2="454.7" stroke="#4d4d4d" stroke-width="1"/>
<text x="286.3" y="463.2" font-size="8.0" text-anchor="middle">500</text>
<line x1="315.2" y1="453.1" x2="315.2" y2="454.7" stroke="#4d4d4d" stroke-width="1"/>
<text x="315.2" y="463.2" font-size="8.0" text-anchor="middle">1000</text>
<line x1="346.8" y1="453.1" x2="346.8" y2="454.7" stroke="#4d4d4d" stroke-width="1"/>
<text x="346.8" y="463.2" font-size="8.0" text-anchor="middle">1500</text>
<line x1="378.3" y1="453.1" x2="378.3" y2="454.7" stroke="#4d4d4d" stroke-width="1"/>
<text x="378.3" y="463.2" font-size="8.0" text-anchor="middle">2000</text>
<line x1="409.8" y1="453.1" x2="409.8" y2="454.7" stroke="#4d4d4d" stroke-width="1"/>
<text x="409.8" y="463.2" font-size="8.0" text-anchor="middle">2500</text>
<line x1="441.3" y1="453.1" x2="441.3" y2="454.7" stroke="#4d4d4d" stroke-width="1"/>
<text x="441.3" y="463.2" font-size="8.0" text-anchor="middle">3000</text>
<line x1="472.9" y1="453.1" x2="472.9" y2="454.7" stroke="#4d4d4d" stroke-width="1"/>
<text x="472.9" y="463.2" font-size="8.0" text-anchor="middle">3500</text>
<line x1="504.4" y1="453.1" x2="504.4" y2="454.7" stroke="#4d4d4d" stroke-width="1"/>
<text x="504.4" y="463.2" font-size="8.0" text-anchor="middle">4000</text>
<text x="106.5" y="159.6" font-size="10.0">Wavelength (nm)</text>
<text x="106.5" y="317.6" font-size="10.0">Wavelength (nm)</text>
<text x="106.5" y="475.6" font-size="10.0">Wavelength (nm)</text>
<text x="356.4" y="159.6" font-size="10.0">Wavenumber (cm<tspan font-size="6.5" dy="-3.6">-1</tspan><tspan dy="3.6">)</tspan></text>
<text x="356.4" y="317.6" font-size="10.0">Wavenumber (cm<tspan font-size="6.5" dy="-3.6">-1</tspan><tspan dy="3.6">)</tspan></text>
<text x="356.6" y="475.6" font-size="10.0">Wavenumber (cm<tspan font-size="6.5" dy="-3.6">-1</tspan><tspan dy="3.6">)</tspan></text>
<text x="0" y="0" font-size="10.0" text-anchor="middle" transform="translate(25.7,71.95) rotate(-90)">Extinction</text>
<text x="0" y="0" font-size="10.0" text-anchor="middle" transform="translate(25.9,234.1) rotate(-90)">Absorbance</text>
<text x="0" y="0" font-size="10.0" text-anchor="middle" transform="translate(24.0,388.2) rotate(-90)">Fluorescence Intensity</text>
<text x="0" y="0" font-size="10.0" text-anchor="middle" transform="translate(280.0,72.3) rotate(-90)">Absorbance</text>
<text x="0" y="0" font-size="10.0" text-anchor="middle" transform="translate(279.8,238.3) rotate(-90)">Absorbance</text>
<text x="0" y="0" font-size="10.0" text-anchor="middle" transform="translate(277.8,392.4) rotate(-90)">Raman Intensity</text>
<text x="0.7" y="6.6" font-size="7.7" font-weight="bold">(a)</text><text x="0.8" y="166.1" font-size="7.7" font-weight="bold">(b)</text><text x="0.8" y="326.2" font-size="7.7" font-weight="bold">(c)</text>
<text x="259.8" y="7.3" font-size="7.7" font-weight="bold">(d)</text><text x="259.8" y="165.2" font-size="7.7" font-weight="bold">(e)</text><text x="260.9" y="327" font-size="7.7" font-weight="bold">(f)</text>
<g class="w" font-weight="bold" font-size="10.4" fill="#000">
<text x="297.8" y="178.2">W<tspan font-size="5.1" dy="3.1">5</tspan></text>
<text x="315.5" y="178.2">W<tspan font-size="5.1" dy="3.1">4</tspan></text>
<text x="333.5" y="178.2">W<tspan font-size="5.1" dy="3.1">3</tspan></text>
<text x="351.8" y="178.2">W<tspan font-size="5.1" dy="3.1">2</tspan></text>
<text x="434.0" y="178.2">W<tspan font-size="5.1" dy="3.1">1</tspan></text>
</g>
</svg>
</body></html>
